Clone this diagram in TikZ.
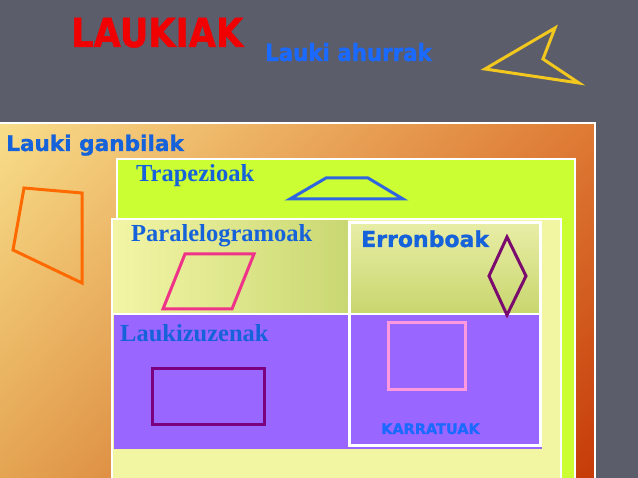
\documentclass[tikz,border=0pt]{standalone}
\usepackage{fontspec}
\usetikzlibrary{shadings}
\newfontfamily\dvs{DejaVu Sans}[BoldFeatures={FakeBold=1.2}]
\newfontfamily\lsr{Liberation Serif}
\definecolor{slidebg}{HTML}{5B5D6B}
\definecolor{titred}{HTML}{F00000}
\definecolor{tblue}{HTML}{1662DA}
\definecolor{tblueb}{HTML}{1A6AFF}
\definecolor{lime}{HTML}{CCFF33}
\definecolor{purp}{HTML}{9966FF}
\definecolor{arrowy}{HTML}{F2C81E}
\definecolor{orq}{HTML}{FF6A00}
\definecolor{trapb}{HTML}{2F66E0}
\definecolor{parpink}{HTML}{EE3388}
\definecolor{rhomb}{HTML}{7A0A6E}
\definecolor{rectp}{HTML}{7A0080}
\definecolor{sqpink}{HTML}{FF99DD}
\definecolor{gUL}{HTML}{F8DE8A}
\definecolor{gUR}{HTML}{DE7A34}
\definecolor{gLL}{HTML}{E4A452}
\definecolor{gLR}{HTML}{C63A08}
\definecolor{pbase}{HTML}{F2F5A2}
\definecolor{pl}{HTML}{F3F5A6}
\definecolor{pr}{HTML}{C9D872}
\definecolor{et}{HTML}{E8EDA6}
\definecolor{eb}{HTML}{C8D66E}
\tikzset{
  lbl/.style={inner sep=0pt, anchor=base west},
  sansb/.style={lbl, font=\dvs\bfseries},
  serifb/.style={lbl, font=\lsr\bfseries, text=tblue},
  shp/.style={line width=3pt, line join=miter},
  wframe/.style={draw=white, line width=2pt}
}
\begin{document}
\begin{tikzpicture}[x=1pt,y=-1pt]
\useasboundingbox (0,0) rectangle (638,478);
\fill[slidebg] (0,0) rectangle (638,478);
% outer box: Lauki ganbilak
\shade[upper left=gUL, upper right=gUR, lower left=gLL, lower right=gLR] (0,123) rectangle (595,480);
\draw[wframe] (-2,123) -- (595,123) -- (595,480);
% Trapezioak box
\fill[lime] (117,159) rectangle (575,480);
\draw[wframe] (117,480) -- (117,159) -- (575,159) -- (575,480);
% Paralelogramoak box
\fill[pbase] (112,219) rectangle (561,480);
\shade[left color=pl, right color=pr] (113,220) rectangle (348,314);
\shade[top color=et, bottom color=eb] (348,224) rectangle (541,314);
\draw[wframe] (112,480) -- (112,219) -- (561,219) -- (561,480);
% purple Laukizuzenak
\fill[purp] (114,315) rectangle (542,449);
\draw[white, line width=2pt] (112,314) -- (348,314);
% Erronboak frame
\draw[white, line width=3pt] (349,223) rectangle (540,446);
\draw[white, line width=2pt] (349,314) -- (540,314);
% shapes
\draw[arrowy, shp] (555,28) -- (543,59) -- (579,83) -- (485,69) -- cycle;
\draw[orq, shp] (24,188) -- (82,193) -- (82,283) -- (13,250) -- cycle;
\draw[trapb, shp] (290,199) -- (326,178) -- (368,178) -- (403,199) -- cycle;
\draw[parpink, shp] (185,254) -- (254,254) -- (232,309) -- (163,309) -- cycle;
\draw[rhomb, shp] (507,237) -- (526,276) -- (507,315) -- (489,276) -- cycle;
\draw[rectp, shp] (152,369) rectangle (264,425);
\draw[sqpink, shp] (388,323) rectangle (465,390);
% labels
\node[sansb, text=titred, font=\dvs\bfseries\fontsize{40}{44}\selectfont] (t1) at (71,47) {\scalebox{0.88}[1]{LAUKIAK}};
\node[sansb, text=tblueb, font=\dvs\bfseries\fontsize{22}{26}\selectfont] (t2) at (265,61) {\scalebox{0.97}[1.08]{Lauki ahurrak}};
\node[sansb, text=tblue, font=\dvs\bfseries\fontsize{21.6}{26}\selectfont] (t3) at (6,151) {Lauki ganbilak};
\node[serifb, font=\lsr\bfseries\fontsize{24.5}{28}\selectfont] (t4) at (136,182) {Trapezioak};
\node[serifb, font=\lsr\bfseries\fontsize{24.5}{28}\selectfont] (t5) at (131,242) {Paralelogramoak};
\node[serifb, font=\lsr\bfseries\fontsize{24.5}{28}\selectfont] (t6) at (120,342) {Laukizuzenak};
\node[sansb, text=tblue, font=\dvs\bfseries\fontsize{22}{26}\selectfont] (t7) at (361,247) {Erronboak};
\node[sansb, text=tblueb, font=\dvs\bfseries\fontsize{14.5}{17}\selectfont] (t8) at (381,434) {KARRATUAK};
\end{tikzpicture}
\end{document}
